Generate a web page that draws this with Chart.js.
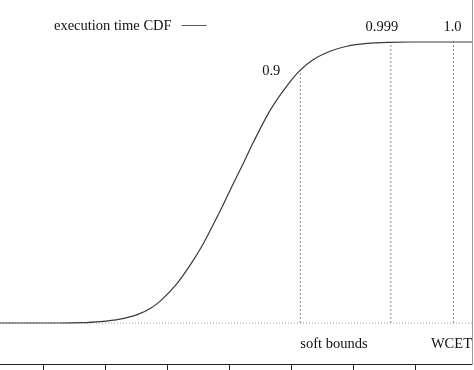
<!DOCTYPE html>
<html>
<head>
<meta charset="utf-8">
<script src="https://cdn.jsdelivr.net/npm/chart.js@4"></script>
<style>
  html, body { margin: 0; padding: 0; background: #fff; }
  #wrap { width: 474px; height: 370px; position: relative; }
</style>
</head>
<body>
<div id="wrap"><canvas id="cdf"></canvas></div>
<script>
// execution time samples (x) and cumulative probability (y)
const timeVals = [-0.69, 0.27, 0.60, 0.92, 1.24, 1.52, 1.73, 1.89, 2.16, 2.42, 2.58, 2.74, 2.90,
                  3.06, 3.23, 3.39, 3.66, 3.94, 4.15, 4.35, 4.63, 4.90, 5.23, 5.60, 5.92, 6.92];
const cdfVals = [0, 0, 0.001, 0.005, 0.014, 0.030, 0.052, 0.078, 0.140, 0.222, 0.280, 0.348, 0.418,
                 0.492, 0.568, 0.642, 0.756, 0.846, 0.9, 0.936, 0.967, 0.985, 0.995, 0.999, 1.0, 1.0];

// bounds marked on the curve
const boundX = [4.15, 5.61, 6.62];
const boundP = [0.9, 0.999, 1.0];
const boundLabels = ['0.9', '0.999', '1.0'];
const boundNames = ['soft bounds', '', 'WCET'];

const xMin = -0.694;
const xMax = 6.919;

const FONT = 'Liberation Serif';
Chart.defaults.font.family = FONT;

const curveData = timeVals.map((t, i) => ({ x: t, y: cdfVals[i] }));

const markerSets = boundX.map((bx, i) => ({
    label: 'bound ' + boundLabels[i],
    data: [{ x: bx, y: 0 }, { x: bx, y: boundP[i] }],
    borderColor: '#8a8a8a',
    borderWidth: 1,
    borderDash: [2, 2],
    pointRadius: 0,
    fill: false
}));

// draws the legend (text then line sample) and the bound labels
const annotations = {
    id: 'annotations',
    afterDatasetsDraw(chart) {
        const ctx = chart.ctx;
        const xs = chart.scales.x;
        const ys = chart.scales.y;
        ctx.save();
        ctx.fillStyle = '#111';
        ctx.font = '14.5px "' + FONT + '"';
        ctx.textBaseline = 'middle';

        // legend
        const ds = chart.data.datasets[0];
        ctx.textAlign = 'left';
        ctx.fillText(ds.label, 54, 26);
        const w = ctx.measureText(ds.label).width;
        ctx.strokeStyle = '#555';
        ctx.lineWidth = 1;
        ctx.beginPath();
        ctx.moveTo(54 + w + 10, 25.5);
        ctx.lineTo(54 + w + 35, 25.5);
        ctx.stroke();

        // probability labels at each bound
        boundX.forEach((bx, i) => {
            const px = xs.getPixelForValue(bx);
            if (i === 0) {
                ctx.textAlign = 'right';
                ctx.fillText(boundLabels[i], px - 20, ys.getPixelForValue(boundP[i]) + 1);
            } else {
                ctx.textAlign = 'center';
                const off = i === 1 ? -9 : -1;
                ctx.fillText(boundLabels[i], px + off, ys.getPixelForValue(boundP[i]) - 15);
            }
        });

        // names under the baseline
        const baseY = ys.getPixelForValue(0) + 21;
        boundX.forEach((bx, i) => {
            if (!boundNames[i]) return;
            const px = xs.getPixelForValue(bx);
            if (i === 0) {
                ctx.textAlign = 'left';
                ctx.fillText(boundNames[i], px, baseY);
            } else {
                ctx.textAlign = 'center';
                ctx.fillText(boundNames[i], px - 2, baseY);
            }
        });
        ctx.restore();
    }
};

new Chart(document.getElementById('cdf'), {
    type: 'line',
    data: {
        datasets: [
            {
                label: 'execution time CDF',
                data: curveData,
                borderColor: '#3a3a3a',
                borderWidth: 1.2,
                pointRadius: 0,
                cubicInterpolationMode: 'monotone',
                fill: false
            },
            {
                label: 'baseline',
                data: [{ x: xMin, y: 0 }, { x: xMax, y: 0 }],
                borderColor: '#9a9a9a',
                borderWidth: 1,
                borderDash: [1, 2],
                pointRadius: 0,
                fill: false
            },
            ...markerSets
        ]
    },
    options: {
        responsive: true,
        maintainAspectRatio: false,
        animation: false,
        layout: { padding: { left: 0, right: 2, top: 0, bottom: 0 } },
        plugins: {
            legend: { display: false },
            tooltip: { enabled: false }
        },
        scales: {
            x: {
                type: 'linear',
                min: xMin,
                max: xMax,
                ticks: { display: false, stepSize: 1, includeBounds: false },
                grid: { drawOnChartArea: false, drawTicks: true, tickLength: 6, tickColor: '#222', color: '#222' },
                border: { color: '#222', width: 1 }
            },
            y: {
                display: false,
                min: -0.1459,
                max: 1.1495
            },
            yRight: {
                position: 'right',
                display: true,
                min: -0.1459,
                max: 1.1495,
                ticks: { display: false },
                grid: { drawOnChartArea: false, drawTicks: false },
                border: { color: '#9a9a9a', width: 1 }
            }
        }
    },
    plugins: [annotations]
});
</script>
</body>
</html>
